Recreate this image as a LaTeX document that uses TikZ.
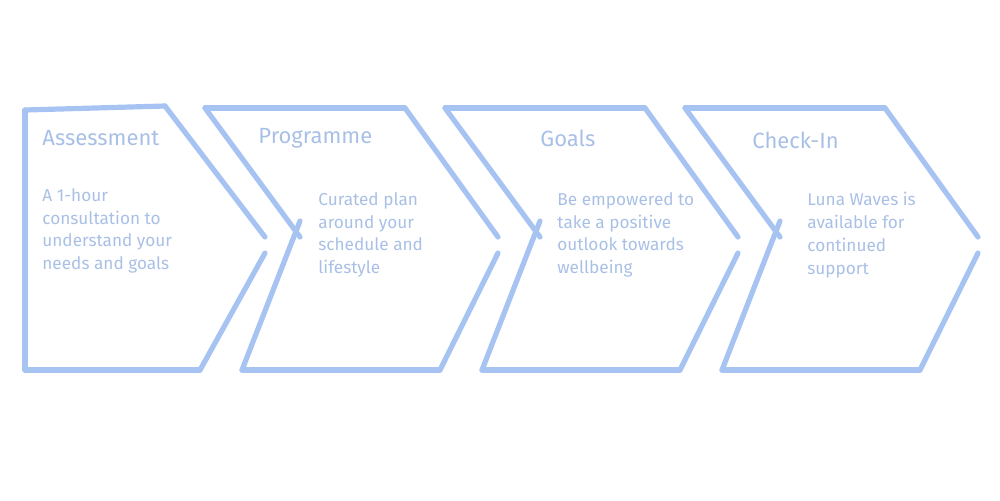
\documentclass[tikz,border=0pt]{standalone}
\usepackage{fontspec}
\setmainfont{Fira Sans}
\newfontfamily\titlefont{Fira Sans}
\definecolor{edge}{HTML}{A6C3F2}
\definecolor{txt}{HTML}{A9C0E6}
\begin{document}
\begin{tikzpicture}[x=0.5pt,y=-0.5pt,
  stroke/.style={edge,line width=2.6pt,line cap=round},
  ttl/.style={text=txt,font=\titlefont\fontsize{11}{13}\selectfont,anchor=west,inner sep=0},
  body/.style={text=txt,font=\fontsize{8.6}{11.4}\selectfont,anchor=north west,align=left,inner sep=0}]
\useasboundingbox (0,0) rectangle (1000,500);
% shape 1
\coordinate (a1) at (25,110); \coordinate (b1) at (165,106); \coordinate (c1) at (265,237);
\coordinate (d1) at (200,370); \coordinate (e1) at (25,370);
\draw[stroke] (a1)--(b1); \draw[stroke] (b1)--(c1); \draw[stroke] ([yshift=-8]c1)--(d1);
\draw[stroke] (d1)--(e1); \draw[stroke] (e1)--(a1);
% chevrons
\foreach \i/\x in {2/205,3/445,4/685}{
  \coordinate (a\i) at (\x,108); \coordinate (b\i) at (\x+200,108);
  \coordinate (c\i) at (\x+293,237); \coordinate (d\i) at (\x+235,370);
  \coordinate (e\i) at (\x+37,370); \coordinate (n\i) at (\x+95,237);
  \draw[stroke] (a\i)--(b\i); \draw[stroke] (b\i)--(c\i); \draw[stroke] ([yshift=-8]c\i)--(d\i);
  \draw[stroke] (d\i)--(e\i); \draw[stroke] (e\i)--([yshift=8]n\i); \draw[stroke] (n\i)--(a\i);
}
\node[ttl] (t1) at (42,138) {Assessment};
\node[ttl] (t2) at (258,138) {Programme};
\node[ttl] (t3) at (540,138) {Goals};
\node[ttl] (t4) at (752,140) {Check-In};
\node[body] (x1) at (42,188) {A 1-hour\\consultation to\\understand your\\needs and goals};
\node[body] (x2) at (318,192) {Curated plan\\around your\\schedule and\\lifestyle};
\node[body] (x3) at (557,192) {Be empowered to\\take a positive\\outlook towards\\wellbeing};
\node[body] (x4) at (807,192) {Luna Waves is\\available for\\continued\\support};
\end{tikzpicture}
\end{document}
